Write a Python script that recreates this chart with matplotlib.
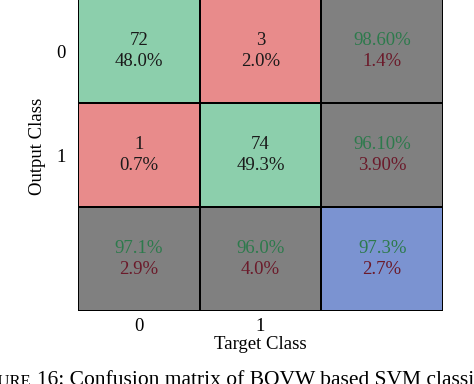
import numpy as np
import matplotlib.pyplot as plt
from matplotlib.colors import ListedColormap

plt.rcParams['font.family'] = ['Liberation Serif', 'DejaVu Serif']

classes = ['0', '1']
counts = [[72, 3], [1, 74]]
cell_pct = [['48.0%', '2.0%'], ['0.7%', '49.3%']]
row_good = ['98.60%', '96.10%']
row_bad = ['1.4%', '3.90%']
col_good = ['97.1%', '96.0%']
col_bad = ['2.9%', '4.0%']
total_good = '97.3%'
total_bad = '2.7%'

green = '#8ccfac'
red = '#e88b8b'
grey = '#808080'
blue = '#7b93d1'
txt_green = '#2d7a4c'
txt_red = '#6b1a2a'

n = len(classes)
# 0 = correct, 1 = wrong, 2 = summary, 3 = overall
kind = np.full((n + 1, n + 1), 2)
for i in range(n):
    for j in range(n):
        kind[i, j] = 0 if i == j else 1
kind[n, n] = 3

fig = plt.figure(figsize=(4.74, 3.84), dpi=100)
ax = fig.add_axes([78 / 474, 1 - 311 / 384, 365 / 474, 312 / 384])

cmap = ListedColormap([green, red, grey, blue])
xe = np.arange(n + 2) - 0.5
ax.pcolormesh(xe, xe, kind, cmap=cmap, vmin=-0.5, vmax=3.5,
              edgecolors='black', linewidth=1.4)
ax.set_xlim(-0.5, n + 0.5)
ax.set_ylim(n + 0.5, -0.5)

fs = 13.5
dy = 0.1
for i in range(n):
    for j in range(n):
        ax.text(j, i - dy, str(counts[i][j]), ha='center', va='center', fontsize=fs, color='#1a1a1a')
        ax.text(j, i + dy, cell_pct[i][j], ha='center', va='center', fontsize=fs, color='#1a1a1a')
    ax.text(n, i - dy, row_good[i], ha='center', va='center', fontsize=fs, color=txt_green)
    ax.text(n, i + dy, row_bad[i], ha='center', va='center', fontsize=fs, color=txt_red)
    ax.text(i, n - dy, col_good[i], ha='center', va='center', fontsize=fs, color=txt_green)
    ax.text(i, n + dy, col_bad[i], ha='center', va='center', fontsize=fs, color=txt_red)
ax.text(n, n - dy, total_good, ha='center', va='center', fontsize=fs, color=txt_green)
ax.text(n, n + dy, total_bad, ha='center', va='center', fontsize=fs, color=txt_red)

ax.set_xticks(range(n))
ax.set_xticklabels(classes, fontsize=fs)
ax.set_yticks(range(n))
ax.set_yticklabels(classes, fontsize=fs)
ax.tick_params(axis='x', length=0, pad=5)
ax.tick_params(axis='y', length=0, pad=9)
for s in ax.spines.values():
    s.set_visible(False)
ax.set_xlabel('Target Class', fontsize=fs, labelpad=1)
fig.text(37 / 474, 1 - 146 / 384, 'Output Class', rotation=90,
         ha='center', va='center', fontsize=fs)

# caption, cut off at the edges like the source image
fig.text(37 / 474, 1 - 371 / 384, '16: Confusion matrix of BOVW based SVM classifier.',
         ha='left', va='top', fontsize=15.5)
fig.text(31 / 474, 1 - 374 / 384, 'IGURE', ha='right', va='top', fontsize=12)

fig.savefig('out.png', dpi=100)
